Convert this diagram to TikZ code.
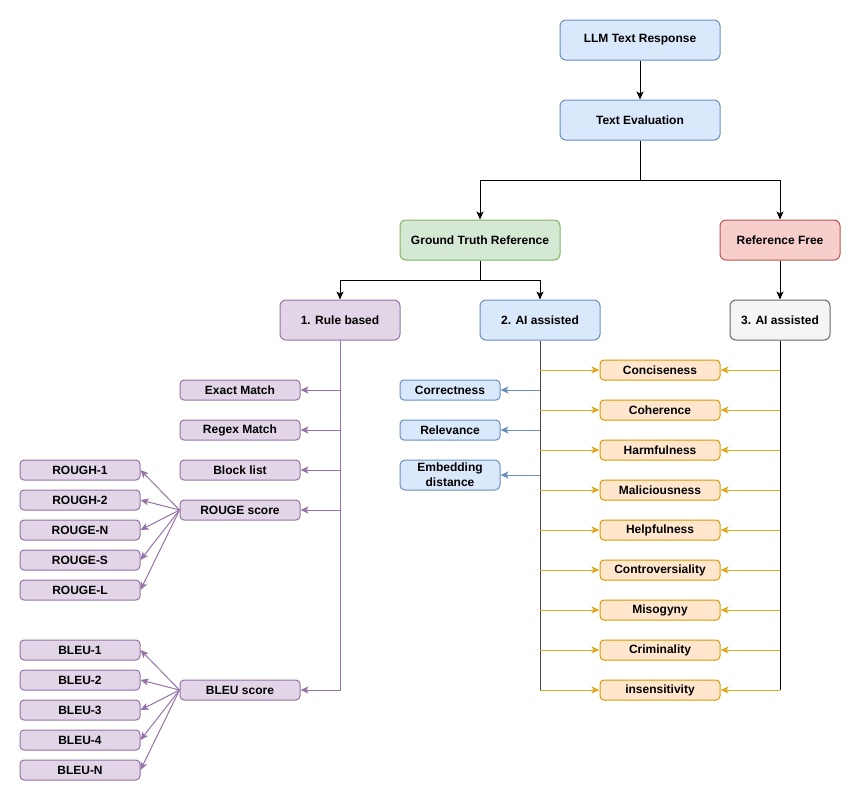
\documentclass[tikz,border=0pt]{standalone}
\usepackage{fontspec}
\setmainfont{Liberation Sans}
\usetikzlibrary{arrows.meta}
\definecolor{bluef}{HTML}{DAE8FC}\definecolor{blues}{HTML}{6C8EBF}
\definecolor{greenf}{HTML}{D5E8D4}\definecolor{greens}{HTML}{82B366}
\definecolor{redf}{HTML}{F8CECC}\definecolor{reds}{HTML}{B85450}
\definecolor{purf}{HTML}{E1D5E7}\definecolor{purs}{HTML}{9673A6}
\definecolor{oraf}{HTML}{FFE6CC}\definecolor{oras}{HTML}{D79B00}
\definecolor{grayf}{HTML}{F5F5F5}\definecolor{grays}{HTML}{666666}
\begin{document}
\begin{tikzpicture}[x=1pt,y=-1pt,
  box/.style={draw,line width=1pt,rounded corners=6pt,inner sep=0pt,align=center,
    font=\fontsize{12}{14}\selectfont\bfseries},
  big/.style={box,minimum height=40pt},
  small/.style={box,rounded corners=4pt,minimum height=20pt},
  bluebox/.style={fill=bluef,draw=blues},
  greenbox/.style={fill=greenf,draw=greens},
  redbox/.style={fill=redf,draw=reds},
  purbox/.style={fill=purf,draw=purs},
  orabox/.style={fill=oraf,draw=oras},
  graybox/.style={fill=grayf,draw=grays},
  tip/.style={-{Stealth[length=8pt,width=7pt,inset=2pt]}},
  karr/.style={tip,line width=1pt,draw=black},
  parr/.style={tip,line width=1pt,draw=purs},
  barr/.style={tip,line width=1pt,draw=blues},
  oarr/.style={tip,line width=1pt,draw=oras!85!white},
]
\useasboundingbox (0,0) rectangle (861,801);
% top
\node[big,bluebox,minimum width=160pt] (llm) at (640,40) {LLM Text Response};
\node[big,bluebox,minimum width=160pt] (te) at (640,120) {Text Evaluation};
\node[big,greenbox,minimum width=160pt] (gtr) at (480,240) {Ground Truth Reference};
\node[big,redbox,minimum width=120pt] (rf) at (780,240) {Reference Free};
\node[big,purbox,minimum width=120pt] (rb) at (340,320) {1. Rule based};
\node[big,bluebox,minimum width=120pt] (ai2) at (540,320) {2. AI assisted};
\node[big,graybox,minimum width=100pt] (ai3) at (780,320) {3. AI assisted};
\draw[karr] (llm) -- (te);
\draw[karr] (te.south) -- ++(0,40) -| (gtr.north);
\draw[karr] (te.south) -- ++(0,40) -| (rf.north);
\draw[karr] (gtr.south) -- ++(0,20) -| (rb.north);
\draw[karr] (gtr.south) -- ++(0,20) -| (ai2.north);
\draw[karr] (rf) -- (ai3);
% rule based
\node[small,purbox,minimum width=120pt] (em) at (240,390) {Exact Match};
\node[small,purbox,minimum width=120pt] (rm) at (240,430) {Regex Match};
\node[small,purbox,minimum width=120pt] (bl) at (240,470) {Block list};
\node[small,purbox,minimum width=120pt] (rs) at (240,510) {ROUGE score};
\node[small,purbox,minimum width=120pt] (bs) at (240,690) {BLEU score};
\foreach \n in {em,rm,bl,rs,bs} \draw[parr] (rb.south) |- (\n.east);
\foreach \n/\t/\y in {r1/ROUGH-1/470,r2/ROUGH-2/500,rn/ROUGE-N/530,rss/ROUGE-S/560,rl/ROUGE-L/590}{
  \node[small,purbox,minimum width=120pt] (\n) at (80,\y) {\t};
  \draw[parr] (rs.west) -- (\n.east);
}
\foreach \n/\t/\y in {b1/BLEU-1/650,b2/BLEU-2/680,b3/BLEU-3/710,b4/BLEU-4/740,bn/BLEU-N/770}{
  \node[small,purbox,minimum width=120pt] (\n) at (80,\y) {\t};
  \draw[parr] (bs.west) -- (\n.east);
}
% AI assisted (ground truth)
\coordinate (ai2end) at (540,690);
\coordinate (ai3end) at (780,690);
\draw[line width=1pt,draw=grays!70!black] (ai2.south) -- (ai2end);
\draw[line width=1pt,draw=black] (ai3.south) -- (ai3end);
\node[small,bluebox,minimum width=100pt] (cor) at (450,390) {Correctness};
\node[small,bluebox,minimum width=100pt] (rel) at (450,430) {Relevance};
\node[box,bluebox,rounded corners=5pt,minimum width=100pt,minimum height=30pt,
  font=\fontsize{12}{15}\selectfont\bfseries] (emb) at (450,475) {Embedding\\distance};
\foreach \n in {cor,rel,emb} \draw[barr] (ai2.south |- \n.east) -- (\n.east);
% orange metrics
\foreach \n/\t/\y in {c1/Conciseness/370,c2/Coherence/410,c3/Harmfulness/450,c4/Maliciousness/490,
  c5/Helpfulness/530,c6/Controversiality/570,c7/Misogyny/610,c8/Criminality/650,c9/insensitivity/690}{
  \node[small,orabox,minimum width=120pt] (\n) at (660,\y) {\t};
  \draw[oarr] (ai2.south |- \n.west) -- (\n.west);
  \draw[oarr] (ai3.south |- \n.east) -- (\n.east);
}
\end{tikzpicture}
\end{document}
